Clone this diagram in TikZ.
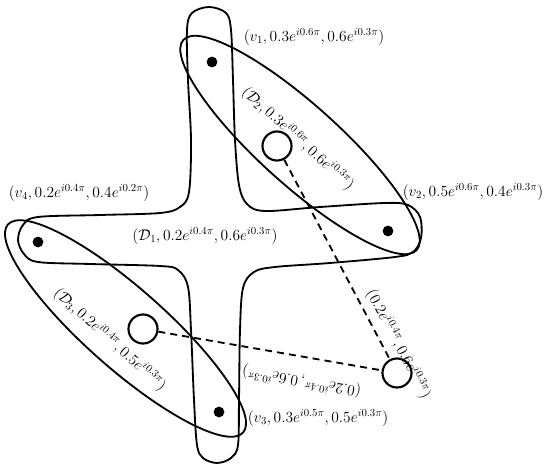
\documentclass[tikz,border=0pt]{standalone}
\usetikzlibrary{shapes.geometric}
\begin{document}
\begin{tikzpicture}[x=0.93pt,y=-0.93pt,
  font=\fontsize{14.4}{17}\selectfont,
  hedge/.style={line width=1.7pt},
  vdot/.style={circle, fill=black, inner sep=0pt, minimum size=10pt},
  enode/.style={circle, draw, line width=2pt, inner sep=0pt, minimum size=27pt},
  link/.style={line width=1.7pt, dash pattern=on 6.5pt off 4.7pt},
  lbl/.style={inner sep=0pt}]
\useasboundingbox (0,0) rectangle (550,470);

% hyperedge D1 (cross shape)
\draw[hedge] plot[smooth cycle, tension=0.55] coordinates {
 (209,7) (226,13) (231,30) (233,80) (235,140) (239,185) (247,204) (265,211)
 (320,207) (385,203) (408,205) (420,217) (421,238) (413,252) (395,257)
 (330,263) (275,267) (254,272) (243,288) (240,330) (239,400) (238,445)
 (231,458) (217,463) (203,458) (197,445) (194,400) (191,330) (188,287)
 (178,270) (160,266) (90,264) (38,262) (24,254) (18,240) (23,225) (38,217)
 (100,215) (160,213) (180,207) (189,192) (191,140) (188,80) (187,30) (192,13)};

% hyperedges D2 and D3 (ellipses)
\draw[hedge, shift={(300,145)}, rotate=-42] (0,0) ellipse [x radius=157, y radius=40];
\draw[hedge, shift={(125.5,328.5)}, rotate=-41.5] (0,0) ellipse [x radius=157, y radius=40];

% vertices
\node[vdot] (v1) at (212,62) {};
\node[vdot] (v2) at (388,231) {};
\node[vdot] (v3) at (219,412) {};
\node[vdot] (v4) at (38,242) {};

% hyperedge nodes
\node[enode] (d2) at (277,146) {};
\node[enode] (d3) at (143,329) {};
\node[enode] (d1) at (397,373) {};

\draw[link] (d2) -- (d1);
\draw[link] (d3) -- (d1);

% labels
\node[lbl] (lv1) at (314,37) {$(v_1, 0.3e^{i0.6\pi}, 0.6e^{i0.3\pi})$};
\node[lbl] (lv2) at (473,192) {$(v_2, 0.5e^{i0.6\pi}, 0.4e^{i0.3\pi})$};
\node[lbl] (lv4) at (79,193) {$(v_4, 0.2e^{i0.4\pi}, 0.4e^{i0.2\pi})$};
\node[lbl] (lv3) at (318,418) {$(v_3, 0.3e^{i0.5\pi}, 0.5e^{i0.3\pi})$};
\node[lbl] (ld1) at (205,236) {$(\mathcal{D}_1, 0.2e^{i0.4\pi}, 0.6e^{i0.3\pi})$};
\node[lbl, rotate=-42] (ld2) at (298,138.5) {$(\mathcal{D}_2, 0.3e^{i0.6\pi}, 0.6e^{i0.3\pi})$};
\node[lbl, rotate=-42] (ld3) at (110,339.5) {$(\mathcal{D}_3, 0.2e^{i0.4\pi}, 0.5e^{i0.3\pi})$};
\node[lbl, rotate=-62] (le1) at (398.5,344) {$(0.2e^{i0.4\pi}, 0.6e^{i0.3\pi})$};
\node[lbl, rotate=170] (le2) at (301.5,381) {$(0.2e^{i0.4\pi}, 0.6e^{i0.3\pi})$};
\end{tikzpicture}
\end{document}
